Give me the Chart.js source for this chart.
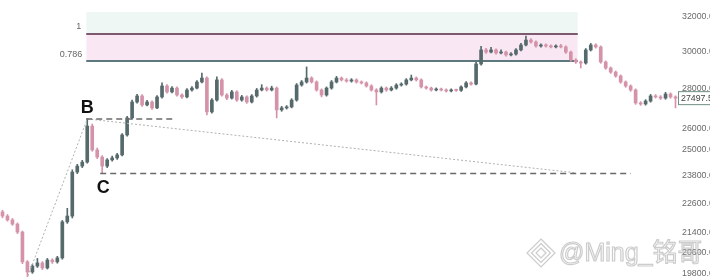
<!DOCTYPE html>
<html><head><meta charset="utf-8">
<script src="https://cdn.jsdelivr.net/npm/chart.js@4"></script>
<style>html,body{margin:0;padding:0;overflow:hidden;background:#fff;width:710px;height:277px}
#wrap{position:relative;width:733px;height:277px}</style></head>
<body><div id="wrap"><canvas id="c" width="733" height="277"></canvas></div>
<script>
// candle data (4h candles, index = candle number)
const opens=[22230,22060,21900,21730,21410,20250,19870,20090,20210,20020,
20320,20250,20400,21820,22060,23950,24220,24400,26100,24960,
24630,24220,24500,24590,24730,25670,26500,27300,27610,27150,
27300,27000,27560,28130,27820,28020,27660,27560,27920,28020,
28340,28550,26800,27400,28450,27660,27500,27820,27400,27560,
27300,27610,27920,28020,27920,28020,26900,27000,27050,27400,
28180,28340,28550,28340,27920,27660,28020,28340,28550,28450,
28390,28450,28340,28290,28130,27920,27820,28020,27920,28020,
28180,28230,28450,28550,28450,28080,28020,27920,27970,27920,
27870,27920,27900,28080,28290,28230,29310,30090,29970,30090,
29920,29970,29810,29860,30090,30370,30650,30540,30310,30370,
30310,30260,30310,30260,29970,29530,29420,29360,30090,30370,
30260,29420,29090,28870,28660,28340,28130,27920,27250,27200,
27350,27610,27560,27500,27710,27560];
const closes=[22060,21900,21730,21410,20250,19870,20090,20210,20020,20320,
20250,20400,21820,22060,23950,24220,24400,26100,24960,24630,
24220,24500,24590,24730,25670,26500,27300,27610,27150,27300,
27000,27560,28130,27820,28020,27660,27560,27920,28020,28340,
28550,26800,27400,28450,27660,27500,27820,27400,27560,27300,
27610,27920,28020,27920,28020,26900,27000,27050,27400,28180,
28340,28550,28340,27920,27660,28020,28340,28550,28450,28390,
28450,28340,28290,28130,27920,27820,28020,27920,28020,28180,
28230,28450,28550,28450,28080,28020,27920,27970,27920,27870,
27920,27900,28080,28290,28230,29310,30090,29970,30090,29920,
29970,29810,29860,30090,30370,30650,30540,30310,30370,30310,
30260,30310,30260,29970,29530,29420,29360,30090,30370,30260,
29420,29090,28870,28660,28340,28130,27920,27250,27200,27350,
27610,27560,27500,27710,27560,27497.5];
const highs=[22300,22120,21960,21780,21450,20300,20150,20380,20260,20380,
20370,20460,21880,22380,24050,24300,24480,26450,26200,25050,
24700,24560,24680,24800,25740,26580,27400,27700,27680,27380,
27360,27630,28300,28200,28100,28080,27720,27990,28100,28420,
28820,28620,27470,28620,28520,27730,27900,27880,27640,27620,
27680,28000,28200,28080,28120,28080,27080,27120,27470,28260,
28420,29150,28620,28400,27980,28080,28420,28640,28610,28520,
28520,28510,28400,28350,28200,27990,28090,28080,28100,28250,
28300,28520,28710,28610,28510,28130,28070,28030,28020,27980,
27980,27970,28140,28360,28350,29400,30300,30180,30230,30150,
30100,30030,29940,30170,30460,30880,30730,30600,30440,30430,
30380,30380,30400,30320,30030,29600,29480,30170,30460,30440,
30320,29480,29150,28930,28720,28400,28190,27980,27320,27420,
27690,27680,27630,27800,27770,27620];
const lows=[21990,21850,21680,21350,20180,19700,19820,20040,19960,19980,
20190,20200,20350,21760,21980,23880,24150,24350,24900,24560,
23890,24150,24440,24520,24680,25610,26440,27240,27080,27100,
26930,26960,27500,27760,27770,27600,27480,27510,27860,27970,
28290,26650,26740,27340,27600,27420,27450,27330,27340,27230,
27250,27550,27870,27860,27870,26500,26830,26940,27000,27340,
28120,28280,28280,27860,27560,27600,27960,28290,28390,28330,
28330,28280,28230,28070,27860,27150,27760,27850,27870,27960,
28120,28170,28400,28390,28020,27960,27860,27870,27870,27810,
27820,27850,27850,28030,28170,28180,29250,29900,29920,29850,
29860,29740,29750,29800,30030,30310,30470,30240,30250,30250,
30200,30200,30200,29900,29460,29340,29090,29300,30030,30190,
29350,29020,28800,28590,28270,28060,27850,27180,27130,27140,
27290,27500,27430,27440,27490,27000];
const yTicks=[19800,20600,21400,22600,23800,25000,26000,28000,30000,32000];
// drawings (data space: candle index, price)
const fibTop=32300, fibOne=31000, fib786=29470, fibFrom=16.8, fibTo=115.4;
const levelB=26450, levelC=23890;
const legIdx=[5.1,17,114.8], legPrice=[19720,26450,23920];

const UP='#56696b', DOWN='#d493a8';
const cols=closes.map((c,i)=>c>=opens[i]?UP:DOWN);
const idx=closes.map((c,i)=>i);

const overlay={id:'overlay',
 afterDraw(ch){
  const ctx=ch.ctx,x=ch.scales.x,y=ch.scales.y;
  ctx.save();
  ctx.fillStyle='#666';ctx.font='9px "Liberation Sans"';ctx.textAlign='right';ctx.textBaseline='middle';
  ctx.fillText('1',x.getPixelForValue(fibFrom)-5,y.getPixelForValue(fibOne)-7);
  ctx.fillText('0.786',x.getPixelForValue(fibFrom)-4,y.getPixelForValue(fib786)-7);
  ctx.fillStyle='#111';ctx.font='bold 18px "Liberation Sans"';ctx.textAlign='center';
  ctx.fillText('B',x.getPixelForValue(17),y.getPixelForValue(levelB)-11);
  ctx.fillText('C',x.getPixelForValue(20.2),y.getPixelForValue(levelC)+15);
  const last=closes[closes.length-1];const py=y.getPixelForValue(last);
  const bx=ch.chartArea.right;
  ctx.fillStyle='#fff';ctx.fillRect(bx,py-7,40,14);
  ctx.strokeStyle='#6f8f86';ctx.lineWidth=1;ctx.strokeRect(bx+0.5,py-6.5,40,13);
  ctx.fillStyle='#444';ctx.font='8.8px "Liberation Sans"';ctx.textAlign='left';
  ctx.fillText(last.toFixed(1),bx+3,py+0.5);
  ctx.globalAlpha=0.5;
  ctx.strokeStyle='#999';ctx.lineWidth=1.2;ctx.fillStyle='rgba(255,255,255,0.85)';
  ctx.font='25px "Liberation Sans","Noto Sans CJK SC"';ctx.textAlign='left';ctx.textBaseline='alphabetic';
  ctx.fillText('@Ming_铭哥',559,261);ctx.strokeText('@Ming_铭哥',559,261);
  const cx=541,cy=253;
  ctx.beginPath();
  ctx.moveTo(cx,cy-14);ctx.lineTo(cx+14,cy);ctx.lineTo(cx,cy+14);ctx.lineTo(cx-14,cy);ctx.closePath();
  ctx.moveTo(cx,cy-5);ctx.lineTo(cx+5,cy);ctx.lineTo(cx,cy+5);ctx.lineTo(cx-5,cy);ctx.closePath();
  ctx.moveTo(cx,cy-9.5);ctx.lineTo(cx+9.5,cy);ctx.lineTo(cx,cy+9.5);ctx.lineTo(cx-9.5,cy);ctx.closePath();
  ctx.stroke();
  ctx.restore();
 }};

const seg=(a,b,v)=>[{x:a,y:v},{x:b,y:v}];
const L={pointRadius:0,pointHoverRadius:0,pointBorderWidth:0,fill:false};
new Chart(document.getElementById('c'),{
 type:'bar',
 data:{datasets:[
  {...L,type:'line',data:seg(fibFrom,fibTo,fibTop),borderWidth:0,fill:'+1',backgroundColor:'#eef7f3',order:10},
  {...L,type:'line',data:seg(fibFrom,fibTo,fibOne),borderColor:'#7e5a70',borderWidth:2,fill:'+1',backgroundColor:'#f9e8f4',order:9},
  {...L,type:'line',data:seg(fibFrom,fibTo,fib786),borderColor:'#5e7880',borderWidth:2,order:8},
  {...L,type:'line',data:seg(16.8,34.6,levelB),borderColor:'#6a6a6a',borderWidth:1.5,borderDash:[6,4],order:0},
  {...L,type:'line',data:seg(19.6,126,levelC),borderColor:'#6a6a6a',borderWidth:1.5,borderDash:[6,4],order:0},
  {...L,type:'line',data:legIdx.map((v,i)=>({x:v,y:legPrice[i]})),borderColor:'#b0b0b0',borderWidth:1,borderDash:[2,2],order:0},
  {data:idx.map(i=>({x:i,y:[lows[i],highs[i]]})),backgroundColor:cols,barThickness:1,grouped:false,order:2},
  {data:idx.map(i=>({x:i,y:[Math.min(opens[i],closes[i]),Math.max(opens[i],closes[i])]})),backgroundColor:cols,barThickness:3,minBarLength:1,grouped:false,order:1}
 ]},
 options:{responsive:false,animation:false,devicePixelRatio:1,
  layout:{padding:0,autoPadding:false},
  plugins:{legend:{display:false},tooltip:{enabled:false}},
  scales:{
   x:{type:'linear',min:-0.5,max:135.5,display:false,offset:false,grid:{offset:false}},
   y:{type:'logarithmic',position:'right',min:19685,max:33033,bounds:'data',
    afterBuildTicks:s=>{s.ticks=yTicks.map(v=>({value:v}));},
    afterFit:s=>{s.width=55;s.paddingTop=0;s.paddingBottom=0;},
    grid:{display:false,drawTicks:false},border:{display:false},
    ticks:{autoSkip:false,padding:4,color:'#6a6a6a',font:{family:'Liberation Sans',size:8.8},callback:v=>Number(v).toFixed(1)}}
  }},
 plugins:[overlay]
});
</script></body></html>
